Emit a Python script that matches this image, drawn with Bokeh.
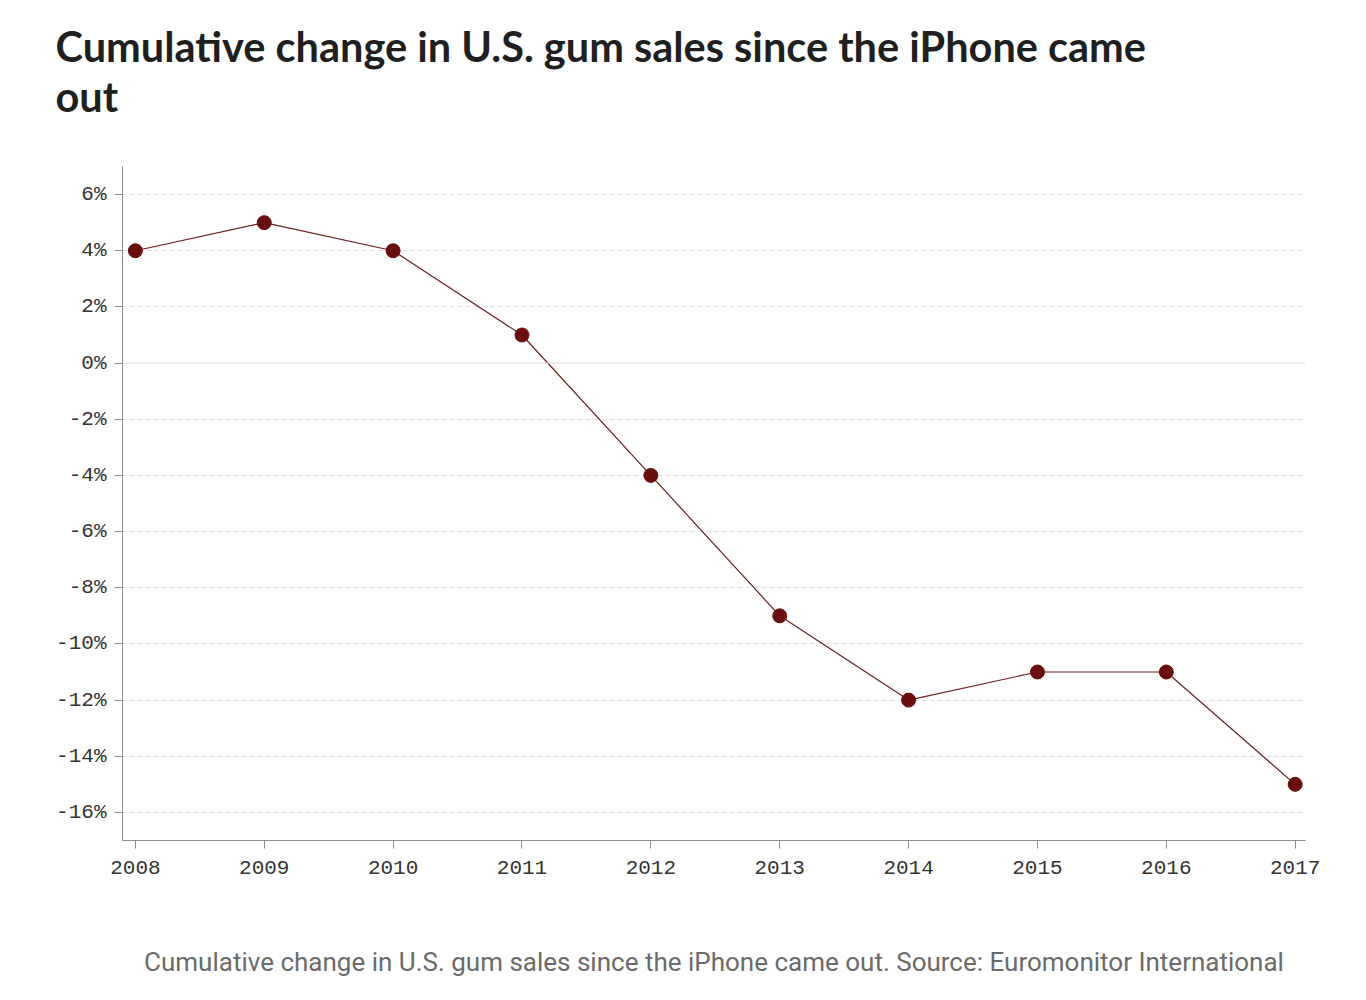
from bokeh.plotting import figure
from bokeh.models import Title, FixedTicker, PrintfTickFormatter, Span, Range1d
from bokeh.embed import file_html
from bokeh.resources import INLINE

years = [2008, 2009, 2010, 2011, 2012, 2013, 2014, 2015, 2016, 2017]
change = [4, 5, 4, 1, -4, -9, -12, -11, -11, -15]
y_ticks = [-16, -14, -12, -10, -8, -6, -4, -2, 0, 2, 4, 6]

p = figure(width=1366, height=1000, output_backend="svg", toolbar_location=None,
           x_range=Range1d(2007.9, 2017.08), y_range=Range1d(-17, 7),
           min_border_left=122, min_border_right=61, min_border_top=0, min_border_bottom=160)
p.outline_line_color = None
p.background_fill_color = "white"
p.border_fill_color = "white"

# spacer between title and plot frame (first added sits closest to the plot)
spacer = Title(text=" ", text_font_size="1px", standoff=25, align="left")
p.add_layout(spacer, "above")
t1 = Title(text="Cumulative change in U.S. gum sales since the iPhone came\nout",
           text_font="Lato", text_font_size="41.5px", text_font_style="bold",
           text_color="#1f1f1f", align="left", offset=-67, standoff=36)
p.add_layout(t1, "above")

p.xgrid.grid_line_color = None
p.ygrid.grid_line_color = "#d9d9d9"
p.ygrid.grid_line_dash = "4 4"
p.ygrid.ticker = FixedTicker(ticks=[t for t in y_ticks if t != 0])
p.add_layout(Span(location=0, dimension="width", line_color="#d9d9d9", line_width=1))

p.xaxis.ticker = FixedTicker(ticks=years)
p.yaxis.ticker = FixedTicker(ticks=y_ticks)
p.yaxis.formatter = PrintfTickFormatter(format="%d%%")
for ax in (p.xaxis[0], p.yaxis[0]):
    ax.axis_line_color = "#8c8c8c"
    ax.major_tick_line_color = "#8c8c8c"
    ax.major_tick_out = 8
    ax.major_tick_in = 0
    ax.minor_tick_line_color = None
    ax.major_label_text_font = "Liberation Mono"
    ax.major_label_text_font_size = "21px"
    ax.major_label_text_color = "#333333"
p.xaxis.major_label_standoff = 12
p.yaxis.major_label_standoff = 8

p.xaxis.axis_label = "Cumulative change in U.S. gum sales since the iPhone came out. Source: Euromonitor International"
p.xaxis.axis_label_text_font = "Roboto"
p.xaxis.axis_label_text_font_size = "26px"
p.xaxis.axis_label_text_font_style = "normal"
p.xaxis.axis_label_text_color = "#6b6b6b"
p.xaxis.axis_label_standoff = 70
p.xaxis.axis_label_align = "center"

p.line(years, change, line_color="#6b1f1f", line_width=1.2)
p.scatter(years, change, size=14, fill_color="#6a0d0d", line_color="#6a0d0d")

open("out.html", "w").write(file_html(p, INLINE))
